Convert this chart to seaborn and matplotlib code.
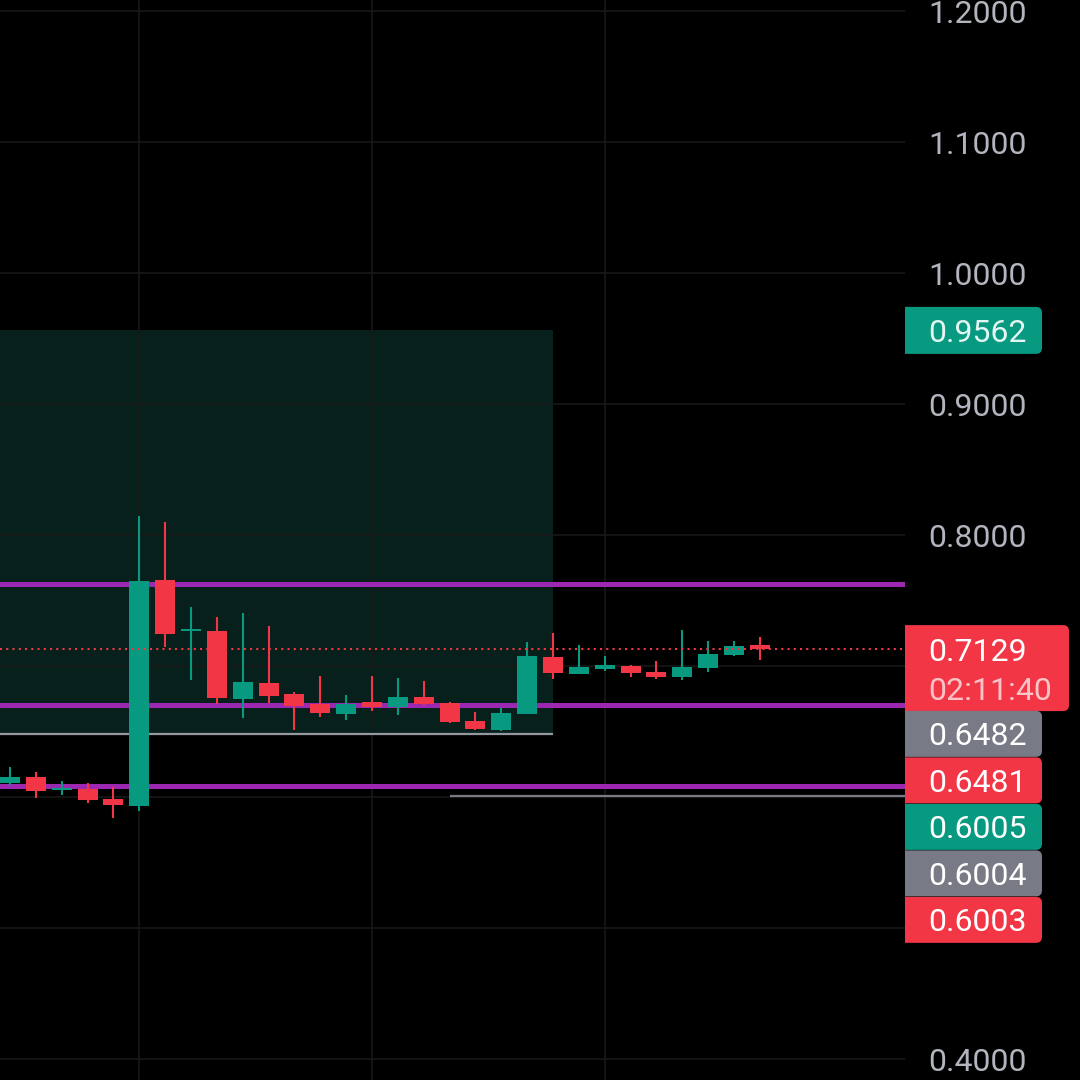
import numpy as np
import pandas as pd
import seaborn as sns
import matplotlib.pyplot as plt
from matplotlib.patches import FancyBboxPatch, Rectangle
from matplotlib.transforms import IdentityTransform, Bbox

# 캔들 데이터
opens = [0.6107, 0.6153, 0.6053, 0.6061, 0.5985, 0.5931, 0.7656, 0.7265, 0.7267, 0.6748,
         0.6870, 0.6786, 0.6710, 0.6634, 0.6725, 0.6687, 0.6763, 0.6718, 0.6580, 0.6511,
         0.6634, 0.7069, 0.6939, 0.6977, 0.7000, 0.6954, 0.6916, 0.6985, 0.7084, 0.7160]
highs = [0.6229, 0.6191, 0.6122, 0.6107, 0.6076, 0.8145, 0.8099, 0.7450, 0.7374, 0.7405,
         0.7305, 0.6802, 0.6924, 0.6779, 0.6924, 0.6908, 0.6885, 0.6725, 0.6649, 0.6679,
         0.7183, 0.7252, 0.7160, 0.7076, 0.7008, 0.7038, 0.7275, 0.7191, 0.7191, 0.7221]
lows = [0.6092, 0.5992, 0.6015, 0.5954, 0.5840, 0.5893, 0.7145, 0.6893, 0.6710, 0.6603,
        0.6718, 0.6511, 0.6611, 0.6588, 0.6656, 0.6626, 0.6702, 0.6565, 0.6511, 0.6504,
        0.6634, 0.6901, 0.6939, 0.6962, 0.6916, 0.6901, 0.6893, 0.6954, 0.7076, 0.7046]
closes = [0.6153, 0.6046, 0.6069, 0.5977, 0.5939, 0.7649, 0.7244, 0.7275, 0.6756, 0.6878,
          0.6771, 0.6695, 0.6641, 0.6710, 0.6687, 0.6763, 0.6710, 0.6573, 0.6519, 0.6641,
          0.7076, 0.6947, 0.6992, 0.7008, 0.6947, 0.6916, 0.6992, 0.7092, 0.7153, 0.7129]

# 수평선 / 박스 값
purple_levels = [0.7626, 0.6702, 0.6084]
box_top, box_bottom, box_end = 0.9562, 0.6482, 21
low_line, low_line_start = 0.6004, 17
last_price = 0.7129
countdown = "02:11:40"
stack_tags = [("0.6482", "#787b86"), ("0.6481", "#f23645"), ("0.6005", "#089981"),
              ("0.6004", "#787b86"), ("0.6003", "#f23645")]
y_ticks = [0.4, 0.5, 0.6, 0.7, 0.8, 0.9, 1.0, 1.1, 1.2]
hidden_ticks = [0.5, 0.6, 0.7]  # 가격 태그에 가려진 눈금
x_grid = [5, 14, 23]

UP, DOWN, GRAY, PURPLE = "#089981", "#f23645", "#787b86", "#9c27b0"

sns.set_theme(style="dark", rc={"axes.facecolor": "black", "figure.facecolor": "black"})
plt.rcParams["font.family"] = ["Roboto", "DejaVu Sans"]

df = pd.DataFrame({"o": opens, "h": highs, "l": lows, "c": closes})
df["i"] = np.arange(len(df))
df["color"] = np.where(df.c >= df.o, UP, DOWN)

fig = plt.figure(figsize=(10.8, 10.8), dpi=100, facecolor="black")
ax = fig.add_axes([0, 0, 905 / 1080, 1])
ax.set_facecolor("black")
xl, xr = -0.387, 34.61
ax.set_xlim(xl, xr)
ax.set_ylim(0.38397, 1.2084)

# 그리드
ax.set_axisbelow(True)
ax.set_yticks(y_ticks)
ax.set_yticklabels(["" if any(abs(v - h) < 1e-9 for h in hidden_ticks) else f"{v:.4f}"
                    for v in y_ticks])
ax.set_xticks(x_grid)
ax.grid(True, color="#181818", lw=1.2)
ax.set_xticklabels([])
for s in ax.spines.values():
    s.set_visible(False)
ax.yaxis.tick_right()
ax.tick_params(axis="y", length=0, pad=16.5, labelsize=23, labelcolor="#b2b5be")
ax.tick_params(axis="x", length=0)

# 포지션 박스
ax.add_patch(Rectangle((xl - 1, box_bottom), box_end - xl + 1, box_top - box_bottom,
                       fc="#08201c", ec="none", zorder=0.3))
ax.hlines(box_bottom, xl - 1, box_end, color="#9598a1", lw=1.6, zorder=1.2)
ax.hlines(low_line, low_line_start, xr + 1, color=GRAY, lw=1.6, zorder=1.2)

for lv in purple_levels:
    ax.axhline(lv, color=PURPLE, lw=3.6, zorder=1.5)

# 캔들
ax.vlines(df.i, df.l, df.h, colors=df.color, lw=1.5, zorder=2)
body = np.maximum((df.c - df.o).abs(), 0.0016)
ax.bar(df.i, body, bottom=np.minimum(df.o, df.c), width=0.773, color=df.color,
       edgecolor="none", linewidth=0, zorder=3)

ax.axhline(last_price, color=DOWN, lw=1.5, ls=(0, (1, 2)), zorder=4)

# 가격 태그
def ypx(v):
    return ax.transData.transform((0, v))[1]

clip = Bbox.from_extents(905, 0, 1080, 1080)

def tag(y0, h, right, color):
    p = FancyBboxPatch((893, y0), right - 893, h, boxstyle="round,pad=0,rounding_size=6",
                       fc=color, ec="none", transform=IdentityTransform(), zorder=5)
    fig.add_artist(p)
    p.set_clip_box(clip)

def label(y, s, color="white"):
    fig.text(928 / 1080, y / 1080, s, color=color, fontsize=23, va="center_baseline",
             ha="left", zorder=6)

y = ypx(box_top)
tag(y - 23.5, 47, 1042, UP)
label(y, f"{box_top:.4f}", "#e3f6f1")

y = ypx(last_price)
tag(y - 62, 86, 1069, DOWN)
label(y, f"{last_price:.4f}")
label(y - 39, countdown, "#f9c3c8")

y = ypx(box_bottom)
for k, (txt, col) in enumerate(stack_tags):
    yc = y - 46.5 * k
    tag(yc - 23, 46, 1042, col)
    label(yc, txt)

fig.savefig("out.png", dpi=100, facecolor="black")
